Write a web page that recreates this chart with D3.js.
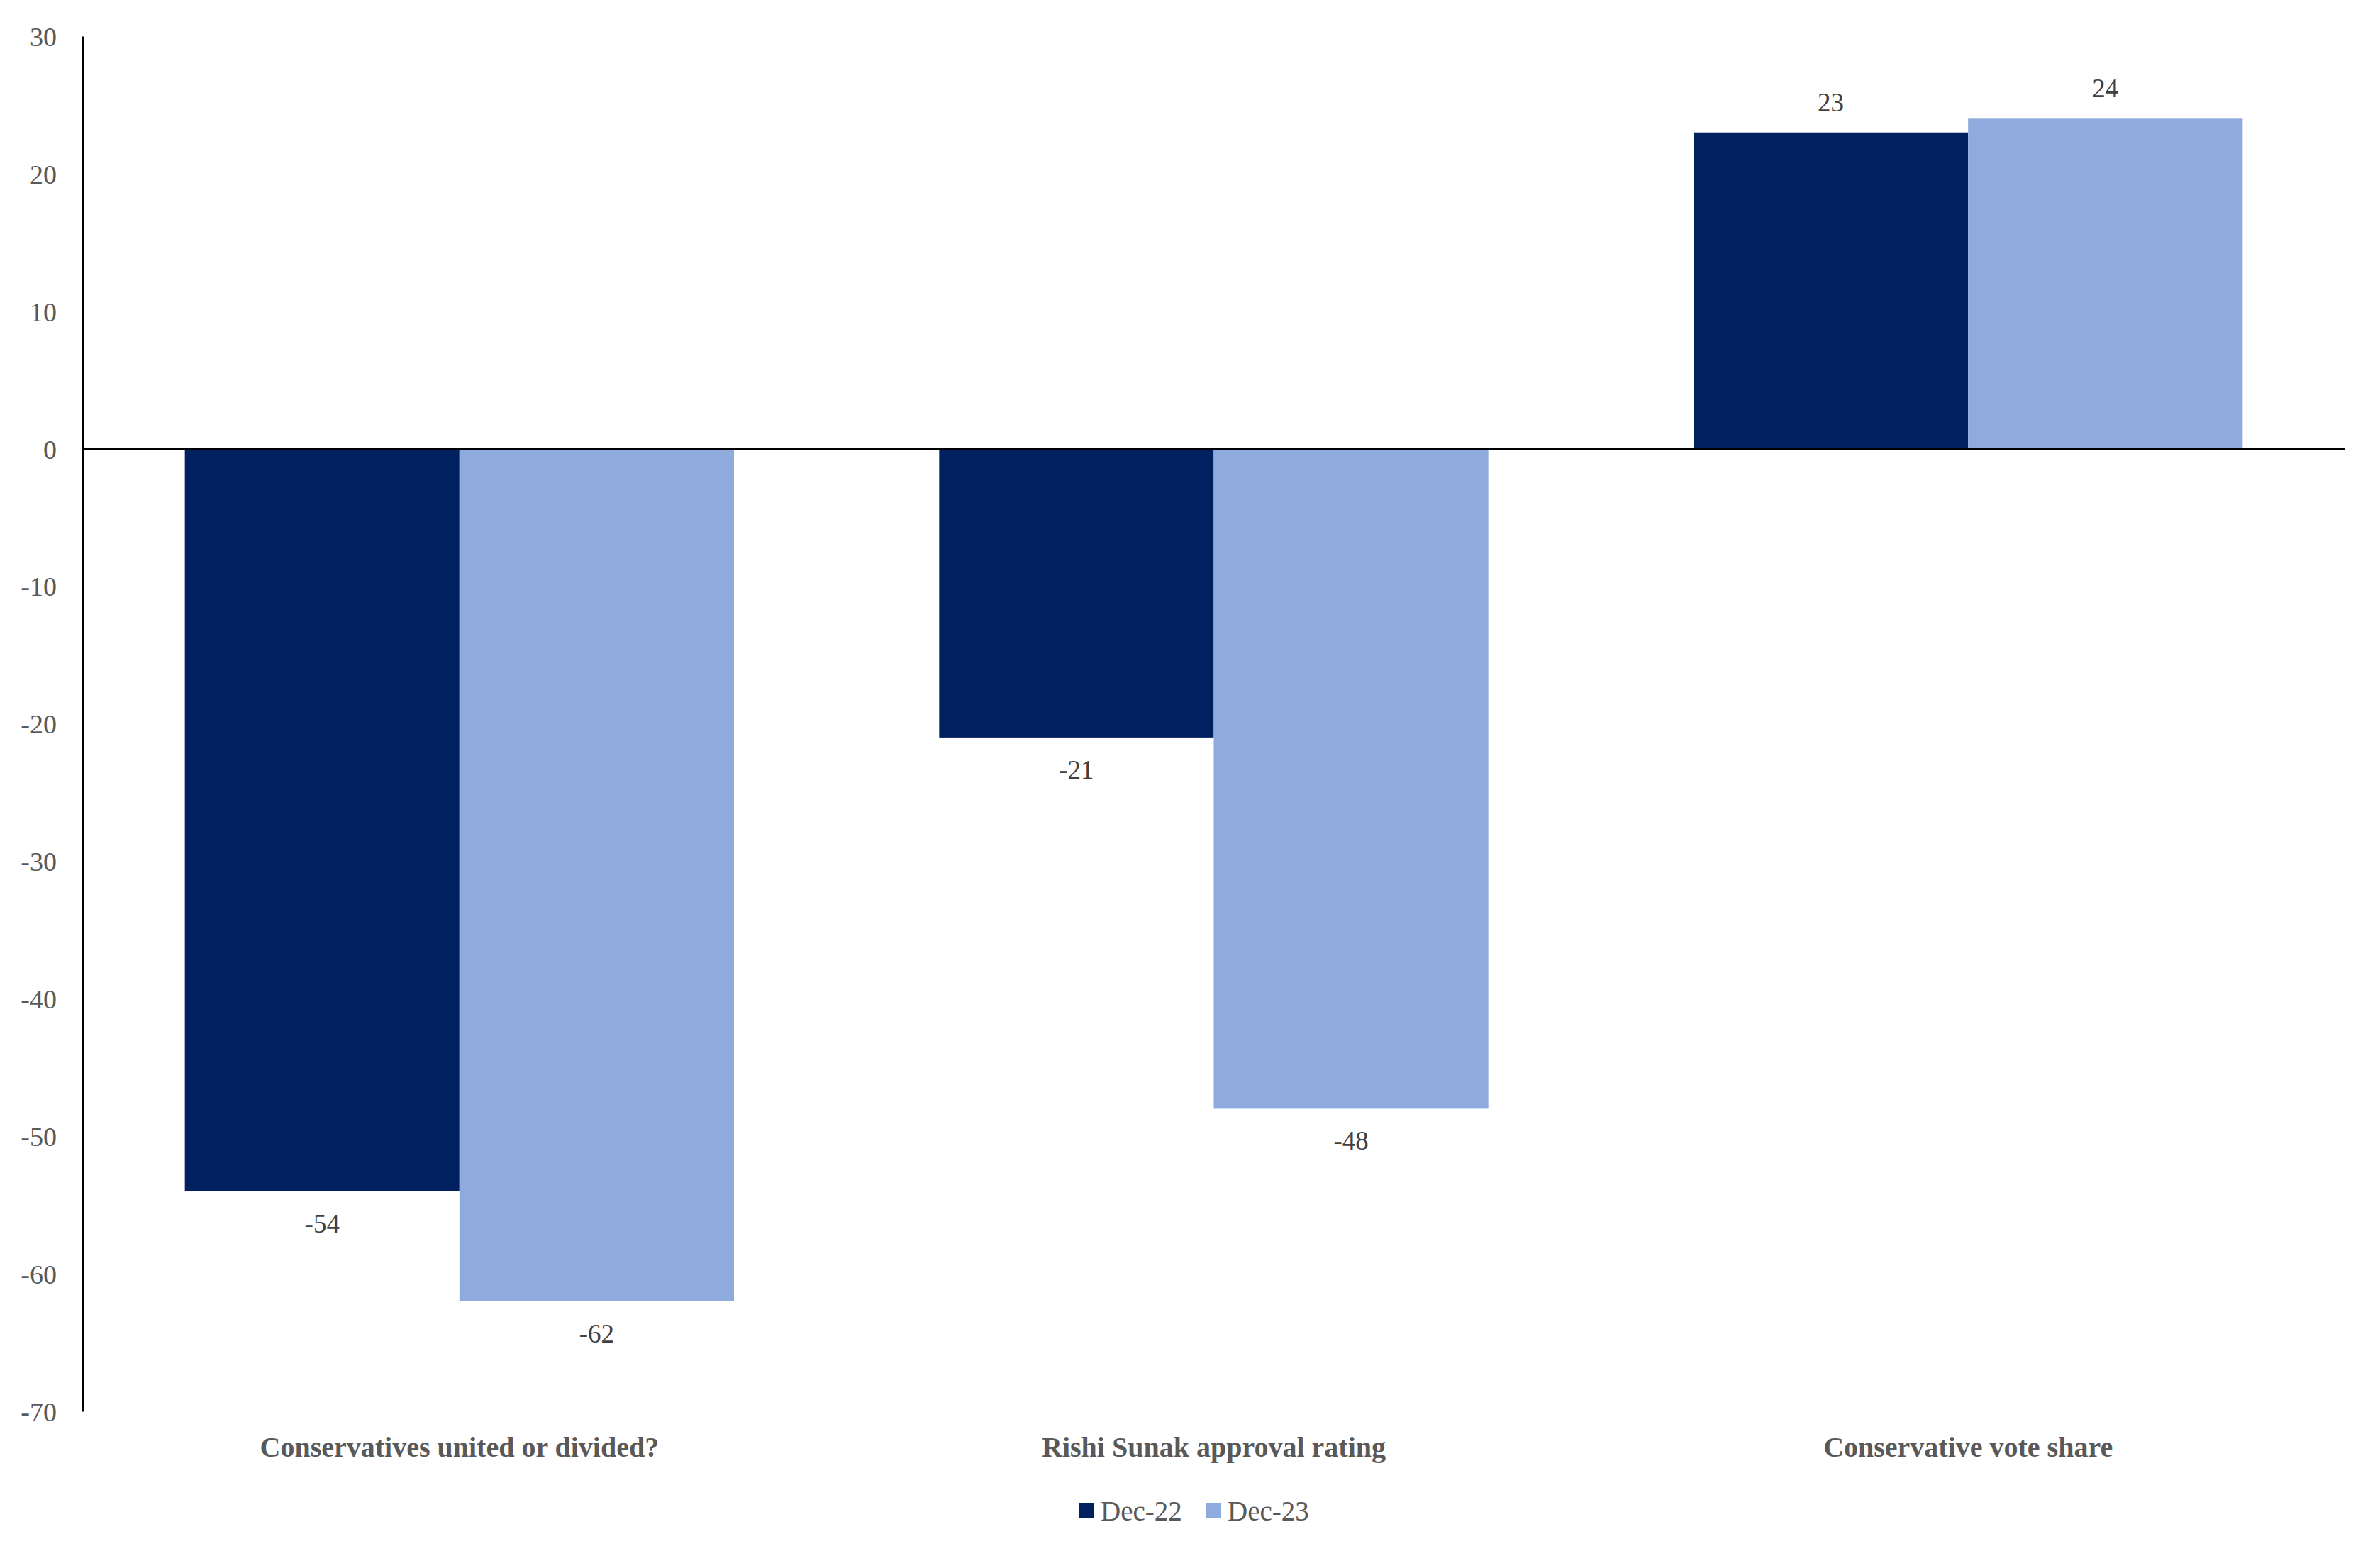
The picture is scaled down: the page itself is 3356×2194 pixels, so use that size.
<!DOCTYPE html>
<html><head><meta charset="utf-8">
<script src="https://cdn.jsdelivr.net/npm/d3@7"></script>
<style>
html,body{margin:0;padding:0;background:#fff;}
svg{display:block;}
</style></head>
<body>
<script>
const categories = ["Conservatives united or divided?", "Rishi Sunak approval rating", "Conservative vote share"];
const seriesNames = ["Dec-22", "Dec-23"];
const dec22 = [-54, -21, 23];
const dec23 = [-62, -48, 24];
const yTicks = [30, 20, 10, 0, -10, -20, -30, -40, -50, -60, -70];
const colors = ["#002060", "#8FAADC"];

(function(){
const W = 3356, H = 2194;
const mLeft = 116, mRight = 3307, mTop = 51, mBottom = 1990;
const font = "'Liberation Serif', 'Times New Roman', serif";

const svg = d3.select("body").append("svg").attr("width", W).attr("height", H);

const y = d3.scaleLinear().domain([-70, 30]).range([mBottom, mTop]);
const x0 = d3.scaleBand().domain(categories).range([mLeft, mRight]).paddingInner(0.272).paddingOuter(0.136);
const x1 = d3.scaleBand().domain(seriesNames).range([0, x0.bandwidth()]);

const data = categories.map((c, i) => ({cat: c, vals: [
  {s: seriesNames[0], v: dec22[i]}, {s: seriesNames[1], v: dec23[i]}]}));

const g = svg.append("g");
const groups = g.selectAll("g.grp").data(data).join("g").attr("class","grp")
  .attr("transform", d => `translate(${x0(d.cat)},0)`);
groups.selectAll("rect").data(d => d.vals).join("rect")
  .attr("x", d => x1(d.s))
  .attr("width", x1.bandwidth())
  .attr("y", d => Math.min(y(d.v), y(0)))
  .attr("height", d => Math.abs(y(d.v) - y(0)))
  .attr("fill", (d, i) => colors[i]);

groups.selectAll("text.val").data(d => d.vals).join("text").attr("class","val")
  .attr("x", d => x1(d.s) + x1.bandwidth()/2)
  .attr("y", d => d.v < 0 ? y(d.v) + 45 : y(d.v) - 43)
  .attr("text-anchor", "middle")
  .attr("dy", "0.35em")
  .attr("font-family", font).attr("font-size", 37).attr("fill", "#404040")
  .text(d => String(d.v));

const yAxis = d3.axisLeft(y).tickValues(yTicks).tickSize(0).tickPadding(0).tickFormat(d => String(d));
const ya = svg.append("g").attr("transform", `translate(${mLeft},0)`).call(yAxis);
ya.select(".domain").attr("stroke", "#000").attr("stroke-width", 3);
ya.selectAll(".tick text").attr("x", -36).attr("dy", "0.35em")
  .attr("font-family", font).attr("font-size", 38).attr("fill", "#595959");

svg.append("line").attr("x1", mLeft).attr("x2", mRight).attr("y1", y(0)).attr("y2", y(0))
  .attr("stroke", "#000").attr("stroke-width", 3);

const xAxis = d3.axisBottom(x0).tickSize(0).tickPadding(0);
const xa = svg.append("g").attr("transform", `translate(0,2040)`).call(xAxis);
xa.select(".domain").remove();
xa.selectAll(".tick text").attr("y", 0).attr("dy", "0.35em")
  .attr("font-family", font).attr("font-size", 40).attr("font-weight", "bold").attr("fill", "#595959");

const legend = svg.append("g").attr("transform", "translate(0,2130)");
const legX = [1522, 1701];
seriesNames.forEach((s, i) => {
  legend.append("rect").attr("x", legX[i]).attr("y", -11).attr("width", 21).attr("height", 21).attr("fill", colors[i]);
  legend.append("text").attr("x", legX[i] + 30).attr("y", 0).attr("dy", "0.35em")
    .attr("font-family", font).attr("font-size", 39).attr("fill", "#595959").text(s);
});
})();
</script>
</body></html>
